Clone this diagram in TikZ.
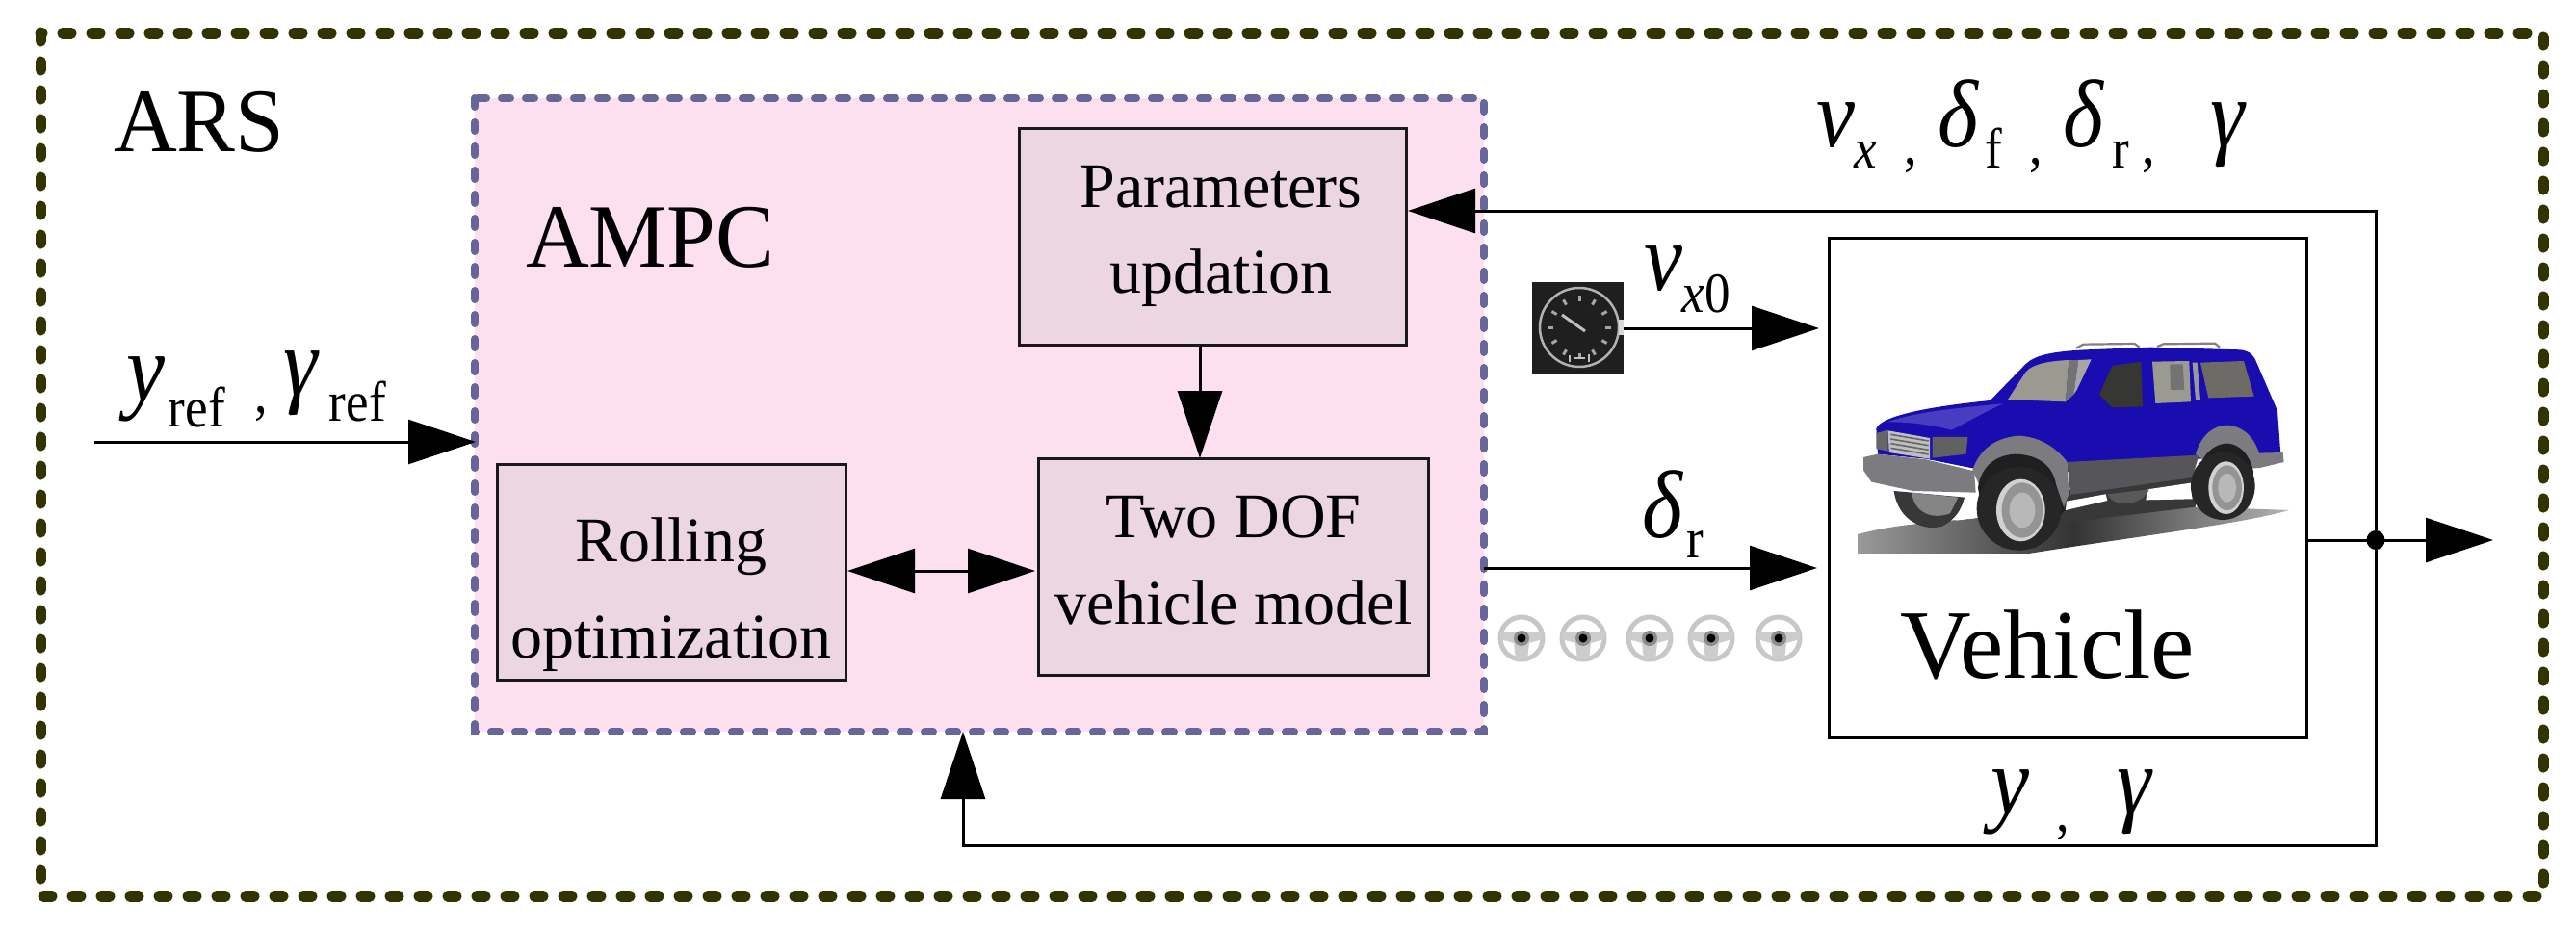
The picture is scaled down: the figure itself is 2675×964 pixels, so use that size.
\documentclass[tikz,border=0pt]{standalone}
\usepackage{fontspec}
\setmainfont{Liberation Serif}
\newfontfamily\narf{Liberation Serif}[FakeStretch=0.9]
\newfontfamily\narb{Liberation Serif}[FakeStretch=0.97]
\usetikzlibrary{arrows.meta,shapes.geometric}
\definecolor{arscol}{HTML}{333300}
\definecolor{mpccol}{HTML}{666699}
\definecolor{mpcfill}{HTML}{FDE0F0}
\definecolor{boxfill}{HTML}{ECD6E2}
\definecolor{carblue}{HTML}{1A0DB0}
\definecolor{cargray}{HTML}{7C7C80}
\definecolor{cardark}{HTML}{56565A}
\definecolor{glass}{HTML}{9A9A90}
\newcommand{\Mi}[1]{\textit{#1}}
\newcommand{\Sbs}[2]{\raisebox{-#1pt}{\fontsize{59}{59}\selectfont #2}}
\newcommand{\Cm}{\raisebox{-18pt}{\fontsize{60}{60}\selectfont ,}}
\newcommand{\Sp}[1]{\hspace*{#1pt}}
\tikzset{
  x=1pt,y=-1pt,
  conn/.style={line width=3pt,draw=black},
  arr/.style={conn,-{Triangle[length=70pt,width=46pt]}},
  larr/.style={conn,{Triangle[length=70pt,width=46pt]}-{Triangle[length=70pt,width=46pt]}},
  box/.style={draw=black!90,line width=3pt,fill=boxfill,inner sep=0pt,outer sep=0pt},
  vbox/.style={draw=black,line width=3pt,fill=white,inner sep=0pt,outer sep=0pt},
  txt/.style={inner sep=0pt,outer sep=0pt,align=center,text=black,font=\fontsize{66}{100}\selectfont},
  big/.style={inner sep=0pt,outer sep=0pt,anchor=base west,text=black,font=\narb\fontsize{94}{94}\selectfont},
  lab/.style={inner sep=0pt,outer sep=0pt,anchor=base west,text=black,font=\narf\fontsize{100}{100}\selectfont},
  wheel/.pic={
    \draw[line width=5pt,draw=black!22] (0,0) circle[radius=22];
    \fill[black!20] (-22,-6)--(-6,-7)--(6,-7)--(22,-6)--(22,1)--(8,5)--(6,22)--(-6,22)--(-8,5)--(-22,1)--cycle;
    \fill[black!45] (0,0) circle[radius=8];
    \fill[black] (0,0) circle[radius=4.5];
  },
}
\begin{document}
\begin{tikzpicture}
\path[use as bounding box] (0,0) rectangle (2675,964);
\fill[white] (0,0) rectangle (2675,964);
% outer ARS boundary
\coordinate (arsA) at (42,34);
\coordinate (arsB) at (2641,931);
\draw[arscol,line width=11pt,line cap=round,dash pattern=on 9pt off 21pt] (arsA) rectangle (arsB);
% AMPC
\node[inner sep=0pt,outer sep=0pt,minimum width=1048pt,minimum height=658pt,fill=mpcfill] (ampc) at (1017,431) {};
\draw[mpccol,line width=8pt,line cap=round,dash pattern=on 9pt off 16pt] (ampc.north west) rectangle (ampc.south east);
% boxes
\node[box,minimum width=402pt,minimum height=225pt] (par) at (1259,245.5) {};
\node[box,minimum width=362pt,minimum height=224pt] (roll) at (697,594) {};
\node[box,minimum width=405pt,minimum height=225pt] (two) at (1280.5,588.5) {};
\node[vbox,minimum width=496pt,minimum height=519pt] (veh) at (2147,506.5) {};
\node[txt,anchor=north] (part) at (1268,165) {\rule{0pt}{50pt}Parameters\\[-11pt]updation};
\node[txt,anchor=north] (rollt) at (697,533) {\rule{0pt}{50pt}Rolling\\optimization};
\node[txt,anchor=north] (twot) at (1281,508) {\rule{0pt}{50pt}Two DOF\\[-10pt]vehicle model};
\node[big,font=\fontsize{102}{102}\selectfont,anchor=base] (veht) at (2126,704) {Vehicle};
\node[big] (ars) at (118,157) {ARS};
\node[big] (mpct) at (546,277) {AMPC};
% gauge
\node[inner sep=0pt,outer sep=0pt,minimum width=95pt,minimum height=96pt,fill=black!88] (gauge) at (1638.5,341) {};
\begin{scope}[shift={(1640,340)}]
\draw[black!30,line width=2.5pt] (0,0) circle[radius=41];
\foreach \a in {0,30,...,330}{\draw[black!35,line width=3pt] (\a:27) -- (\a:33);}
\draw[black!25,line width=3pt] (-18,-13) -- (6,4);
\draw[black!25,line width=2.5pt] (-10,29) -- (-10,36) (10,28)--(10,36) (-6,32)--(6,32);
\draw[black!15,line width=5pt] (43,-8) -- (43,8);
\end{scope}
% steering wheels
\foreach \n/\c in {a/1580,b/1644,c/1713,d/1777,e/1847}{
  \coordinate (sw\n) at (\c,663);
  \pic at (sw\n) {wheel};
}
% car
\begin{scope}[shift={(1900,330)},x=.3333pt,y=-.3333pt]
\shade[left color=black!40,right color=black!30,middle color=black!80] (88,735)--(88,675) .. controls (200,645) and (300,640) .. (450,625) -- (1150,590) -- (1430,600) .. controls (1300,640) and (900,690) .. (620,735) -- cycle;
% far front wheel
\fill[black!78] (200,540) .. controls (215,640) and (300,665) .. (350,650) .. controls (390,630) and (410,600) .. (420,560) -- cycle;
\fill[black!48] (255,545) .. controls (265,610) and (320,630) .. (375,610) -- (400,560) -- cycle;
% underbody
\fill[black!78] (720,540) -- (1140,490) -- (1140,590) -- (720,640) -- cycle;
\fill[white] (738,572) -- (860,550) -- (865,570) -- (735,600) -- cycle;
\fill[white] (990,535) -- (1125,515) -- (1130,565) -- (985,568) -- cycle;
\fill[black!65] (865,550) -- (995,535) .. controls (980,580) and (890,600) .. (865,550);
\fill[white] (392,632) -- (450,558) -- (452,625) -- cycle;
% body
\fill[carblue] (145,345) .. controls (160,310) and (280,280) .. (500,258) -- (610,145) .. controls (640,115) and (700,105) .. (800,100) -- (1000,92) -- (1280,100) .. controls (1310,105) and (1320,115) .. (1330,140) -- (1395,290) -- (1405,425) -- (1150,440) -- (740,480) -- (700,420) -- (520,400) -- (450,470) -- (300,440) -- (150,425) -- cycle;
\fill[carblue!80!white] (180,325) .. controls (280,290) and (420,280) .. (540,268) .. controls (470,300) and (420,330) .. (380,350) .. controls (300,330) and (240,325) .. (180,325) -- cycle;
% windows
\fill[glass] (555,255) -- (610,170) .. controls (630,145) and (680,135) .. (745,132) -- (735,262) -- cycle;
\fill[black!55] (745,132) -- (775,132) -- (760,240) -- (735,262) -- cycle;
\fill[black!35] (775,132) -- (815,130) -- (770,225) -- (760,240) -- cycle;
\fill[black!65!glass] (840,240) -- (880,150) -- (970,137) -- (975,277) -- (880,280) -- cycle;
\fill[glass] (1005,137) -- (1120,135) -- (1125,262) -- (1015,267) -- cycle;
\fill[black!55] (1060,145) -- (1100,145) -- (1105,225) -- (1062,225) -- cycle;
\fill[black!40] (1130,140) -- (1145,140) -- (1155,255) -- (1140,255) -- cycle;
\fill[black!30!glass] (1155,140) -- (1290,135) -- (1322,245) -- (1180,250) -- cycle;
% roof rails
\draw[black!50,line width=2.2pt] (768,95) -- (790,83) -- (950,81) -- (965,92) (1020,90) -- (1040,82) -- (1200,80) -- (1215,92);
% lower body grey
\fill[cargray] (105,435) -- (150,425) -- (300,442) -- (450,478) -- (455,545) -- (260,540) -- (130,512) -- (105,475) -- cycle;
\fill[cardark] (740,450) -- (1150,428) -- (1130,498) -- (750,552) -- cycle;
\fill[cargray] (445,475) .. controls (470,400) and (530,372) .. (590,368) .. controls (660,372) and (710,410) .. (740,450) -- (745,550) -- (725,600) -- (465,520) -- cycle;
\fill[black!88] (462,530) .. controls (470,470) and (510,428) .. (580,425) .. controls (650,428) and (695,460) .. (705,520) -- (732,600) -- (700,640) -- (480,640) -- cycle;
\fill[cargray] (1140,425) .. controls (1160,360) and (1200,335) .. (1240,335) .. controls (1290,340) and (1320,370) .. (1338,422) -- (1412,420) -- (1415,450) -- (1340,468) -- (1310,470) -- (1170,450) -- cycle;
\fill[black!88] (1150,470) .. controls (1170,410) and (1210,392) .. (1240,392) .. controls (1280,395) and (1310,430) .. (1320,480) -- (1320,560) -- (1150,560) -- cycle;
% grille & lamps
\fill[black!60] (145,360) -- (182,350) -- (182,416) -- (145,408) -- cycle;
\fill[black!25] (182,352) -- (312,375) -- (312,440) -- (185,420) -- cycle;
\foreach \t in {0,.25,.5,.75}{
  \draw[black!60,line width=1.6pt] (190,{364+\t*56}) -- (308,{384+\t*56});
}
\fill[black!62] (320,372) -- (430,372) -- (425,425) -- (320,437) -- cycle;
% front wheel
\fill[black!85] (590,595) ellipse[x radius=132,y radius=130];
\fill[black!85] (590,725) -- (530,715) -- (650,715) -- cycle;
\fill[black!18] (595,600) ellipse[x radius=76,y radius=97];
\fill[black!42] (600,600) ellipse[x radius=64,y radius=86];
\fill[black!28] (600,600) ellipse[x radius=40,y radius=55];
% rear wheel
\fill[black!85] (1225,525) ellipse[x radius=100,y radius=105];
\fill[black!18] (1235,530) ellipse[x radius=55,y radius=82];
\fill[black!42] (1238,530) ellipse[x radius=46,y radius=70];
\fill[black!28] (1238,530) ellipse[x radius=28,y radius=45];
\end{scope}
% anchor points for connectors
\coordinate (inS) at (98,459);
\coordinate (inE) at (494,459);
\coordinate (rollE) at (880,593);
\coordinate (twoW) at (1075,593);
\coordinate (gE) at (1686,341);
\coordinate (vehA) at (1889,341);
\coordinate (mpcE) at (1541,590);
\coordinate (vehB) at (1887,590);
\coordinate (vehO) at (2395,561);
\coordinate (jn) at (2467,561);
\coordinate (outE) at (2589,561);
\coordinate (fbT) at (2467,219);
\coordinate (fbB) at (2467,878);
\coordinate (fbC) at (1000,878);
\coordinate (mpcB) at (1000,760);
\coordinate (parE) at (1462,219);
\coordinate (parB) at (1246,359);
\coordinate (twoT) at (1246,476);
% connectors
\draw[arr] (inS) -- (inE);
\draw[larr] (rollE) -- (twoW);
\draw[arr] (gE) -- (vehA);
\draw[arr] (mpcE) -- (vehB);
\draw[arr] (vehO) -- (outE);
\draw[arr] (jn) -- (fbT) -- (parE);
\draw[arr] (jn) -- (fbB) -- (fbC) -- (mpcB);
\draw[arr] (parB) -- (twoT);
\fill[black] (jn) ellipse[x radius=9.5,y radius=10];
% labels
\node[lab] (l1) at (1886,152) {\Mi{v}\Sbs{22}{\Mi{x}}\Sp{28}\Cm\Sp{21}\Mi{δ}\Sp{6}\Sbs{22}{f}\Sp{29}\Cm\Sp{21}\Mi{δ}\Sp{8}\Sbs{22}{r}\Sp{14}\Cm\Sp{57}\Mi{γ}};
\node[lab] (l2) at (131,416) {\Mi{y}\Sp{4}\Sbs{27}{ref}\Sp{31}\raisebox{6pt}{\Cm}\Sp{16}\raisebox{6pt}{\Mi{γ}}\Sp{10}\Sbs{21}{ref}};
\node[lab] (l3) at (1707,301) {\Mi{v}\Sbs{23}{\Mi{x}0}};
\node[lab] (l4) at (1705,558) {\Mi{δ}\Sp{3}\Sbs{21}{r}};
\node[lab] (l5) at (2067,845) {\Mi{y}\Sp{28}\Cm\Sp{50}\Mi{γ}};
\end{tikzpicture}
\end{document}
